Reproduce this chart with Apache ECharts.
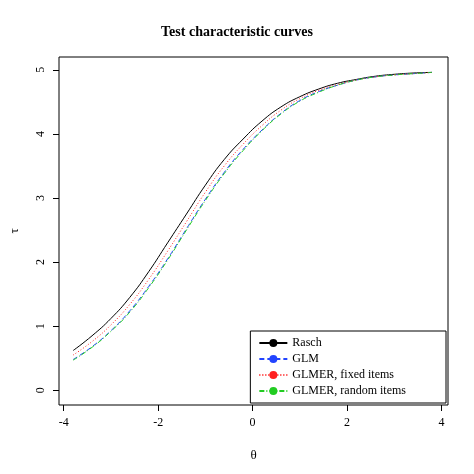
<!DOCTYPE html>
<html><head><meta charset="utf-8">
<script src="https://cdn.jsdelivr.net/npm/echarts@6/dist/echarts.min.js"></script>
<style>html,body{margin:0;background:#fff}#chart{width:474px;height:474px}</style>
</head><body><div id="chart"></div>
<script>
const theta = [-3.8,-3.4,-3,-2.6,-2.2,-1.8,-1.4,-1,-0.6,-0.2,0.2,0.6,1,1.4,1.8,2.2,2.6,3,3.4,3.8];
const rasch = [0.62,0.85,1.12,1.45,1.85,2.3,2.75,3.2,3.6,3.92,4.2,4.42,4.58,4.7,4.79,4.85,4.9,4.93,4.95,4.96];
const glm = [0.48,0.68,0.93,1.24,1.62,2.05,2.52,2.98,3.4,3.76,4.06,4.32,4.52,4.66,4.76,4.84,4.89,4.92,4.94,4.96];
const glmerFixed = [0.55,0.76,1.02,1.34,1.73,2.17,2.63,3.09,3.5,3.84,4.13,4.37,4.55,4.68,4.77,4.84,4.89,4.92,4.94,4.96];
const glmerRandom = [0.47,0.67,0.92,1.22,1.6,2.03,2.5,2.96,3.38,3.74,4.05,4.31,4.51,4.65,4.76,4.84,4.89,4.92,4.94,4.96];
const xTicks = [-4,-2,0,2,4];
const yTicks = [0,1,2,3,4,5];

const font = 'Liberation Serif';
function pairs(v){ return theta.map((t,i)=>[t,v[i]]); }
function mk(name, data, color, type){
  return {name, type:'line', data:pairs(data), symbol:'none', smooth:true,
    lineStyle:{color, width:1, type}, itemStyle:{color}};
}
const chart = echarts.init(document.getElementById('chart'));
chart.setOption({
  animation:false,
  textStyle:{fontFamily:font},
  title:{text:'Test characteristic curves', left:'center', top:20,
    textStyle:{fontFamily:font, fontSize:14, fontWeight:'bold', color:'#000'}},
  grid:{left:58, right:26, top:57, bottom:69, show:true, borderColor:'#000', borderWidth:1},
  xAxis:{type:'value', min:-4.1, max:4.14, name:'θ', nameLocation:'middle', nameGap:44,
    nameTextStyle:{fontFamily:font, fontSize:13, color:'#000'},
    splitLine:{show:false}, axisLine:{show:false, onZero:false},
    axisTick:{customValues:xTicks, length:6, lineStyle:{color:'#000'}},
    axisLabel:{customValues:xTicks, color:'#000', fontFamily:font, fontSize:12, margin:12}},
  yAxis:{type:'value', min:-0.23, max:5.2, name:'τ', nameLocation:'middle', nameGap:38,
    nameTextStyle:{fontFamily:font, fontSize:13, color:'#000'},
    splitLine:{show:false}, axisLine:{show:false, onZero:false},
    axisTick:{customValues:yTicks, length:6, lineStyle:{color:'#000'}},
    axisLabel:{customValues:yTicks, rotate:90, color:'#000', fontFamily:font, fontSize:12, margin:12}},
  legend:{orient:'vertical', right:28, bottom:71, backgroundColor:'#fff',
    borderColor:'#000', borderWidth:1, padding:[6,40,6,8], itemGap:4,
    itemWidth:28, itemHeight:10, align:'left',
    textStyle:{fontFamily:font, fontSize:12, color:'#000'},
    data:['Rasch','GLM','GLMER, fixed items','GLMER, random items']},
  series:[
    mk('Rasch', rasch, '#000', 'solid'),
    mk('GLM', glm, '#2244ff', [5,3]),
    mk('GLMER, fixed items', glmerFixed, '#ff2020', [1,2]),
    mk('GLMER, random items', glmerRandom, '#22cc22', [5,2,1,2])
  ]
});
</script></body></html>
